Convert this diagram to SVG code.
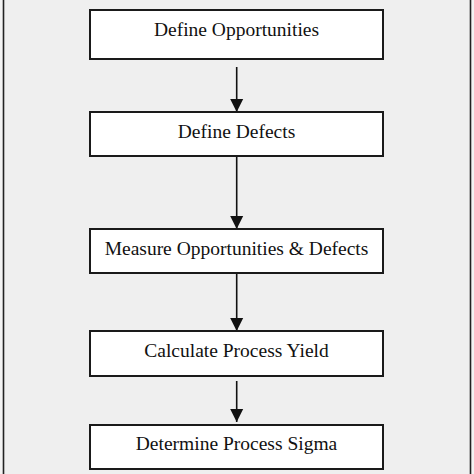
<svg xmlns="http://www.w3.org/2000/svg" width="474" height="474" viewBox="0 0 474 474">
<style>
.box{fill:#ffffff;stroke:#1a1a1a;stroke-width:2}
.lbl{font-family:"Liberation Serif","Times New Roman",serif;font-size:19.5px;fill:#111;text-anchor:middle}
.con{stroke:#111;stroke-width:1.6;fill:none}
.frame{stroke:#222;stroke-width:1.6;fill:none}
</style>
<defs>
<marker id="ah" markerUnits="userSpaceOnUse" markerWidth="14" markerHeight="14" viewBox="0 0 14 14" refX="13" refY="7" orient="auto">
<path d="M0,0.5 L13,7 L0,13.5 Z" fill="#111"/>
</marker>
</defs>
<rect x="0" y="0" width="474" height="474" fill="#f3f3f3"/>
<rect x="3" y="-2" width="468" height="478" fill="#efefef"/>
<line class="frame" x1="3.5" y1="0" x2="3.5" y2="474"/>
<line class="frame" x1="470.5" y1="0" x2="470.5" y2="474"/>
<g id="connectors">
<line class="con" x1="236.7" y1="67" x2="236.7" y2="112" marker-end="url(#ah)"/>
<line class="con" x1="236.7" y1="156" x2="236.7" y2="229" marker-end="url(#ah)"/>
<line class="con" x1="236.7" y1="273" x2="236.7" y2="331" marker-end="url(#ah)"/>
<line class="con" x1="236.7" y1="381" x2="236.7" y2="422" marker-end="url(#ah)"/>
</g>
<g id="n1"><rect class="box" x="90" y="10" width="293" height="49"/><text class="lbl" x="236.5" y="36">Define Opportunities</text></g>
<g id="n2"><rect class="box" x="90" y="112" width="293" height="44"/><text class="lbl" x="236.5" y="138">Define Defects</text></g>
<g id="n3"><rect class="box" x="90" y="229" width="293" height="44"/><text class="lbl" x="236.5" y="255">Measure Opportunities &amp; Defects</text></g>
<g id="n4"><rect class="box" x="90" y="331" width="293" height="45"/><text class="lbl" x="236.5" y="357">Calculate Process Yield</text></g>
<g id="n5"><rect class="box" x="90" y="425" width="293" height="44"/><text class="lbl" x="236.5" y="450">Determine Process Sigma</text></g>
</svg>
